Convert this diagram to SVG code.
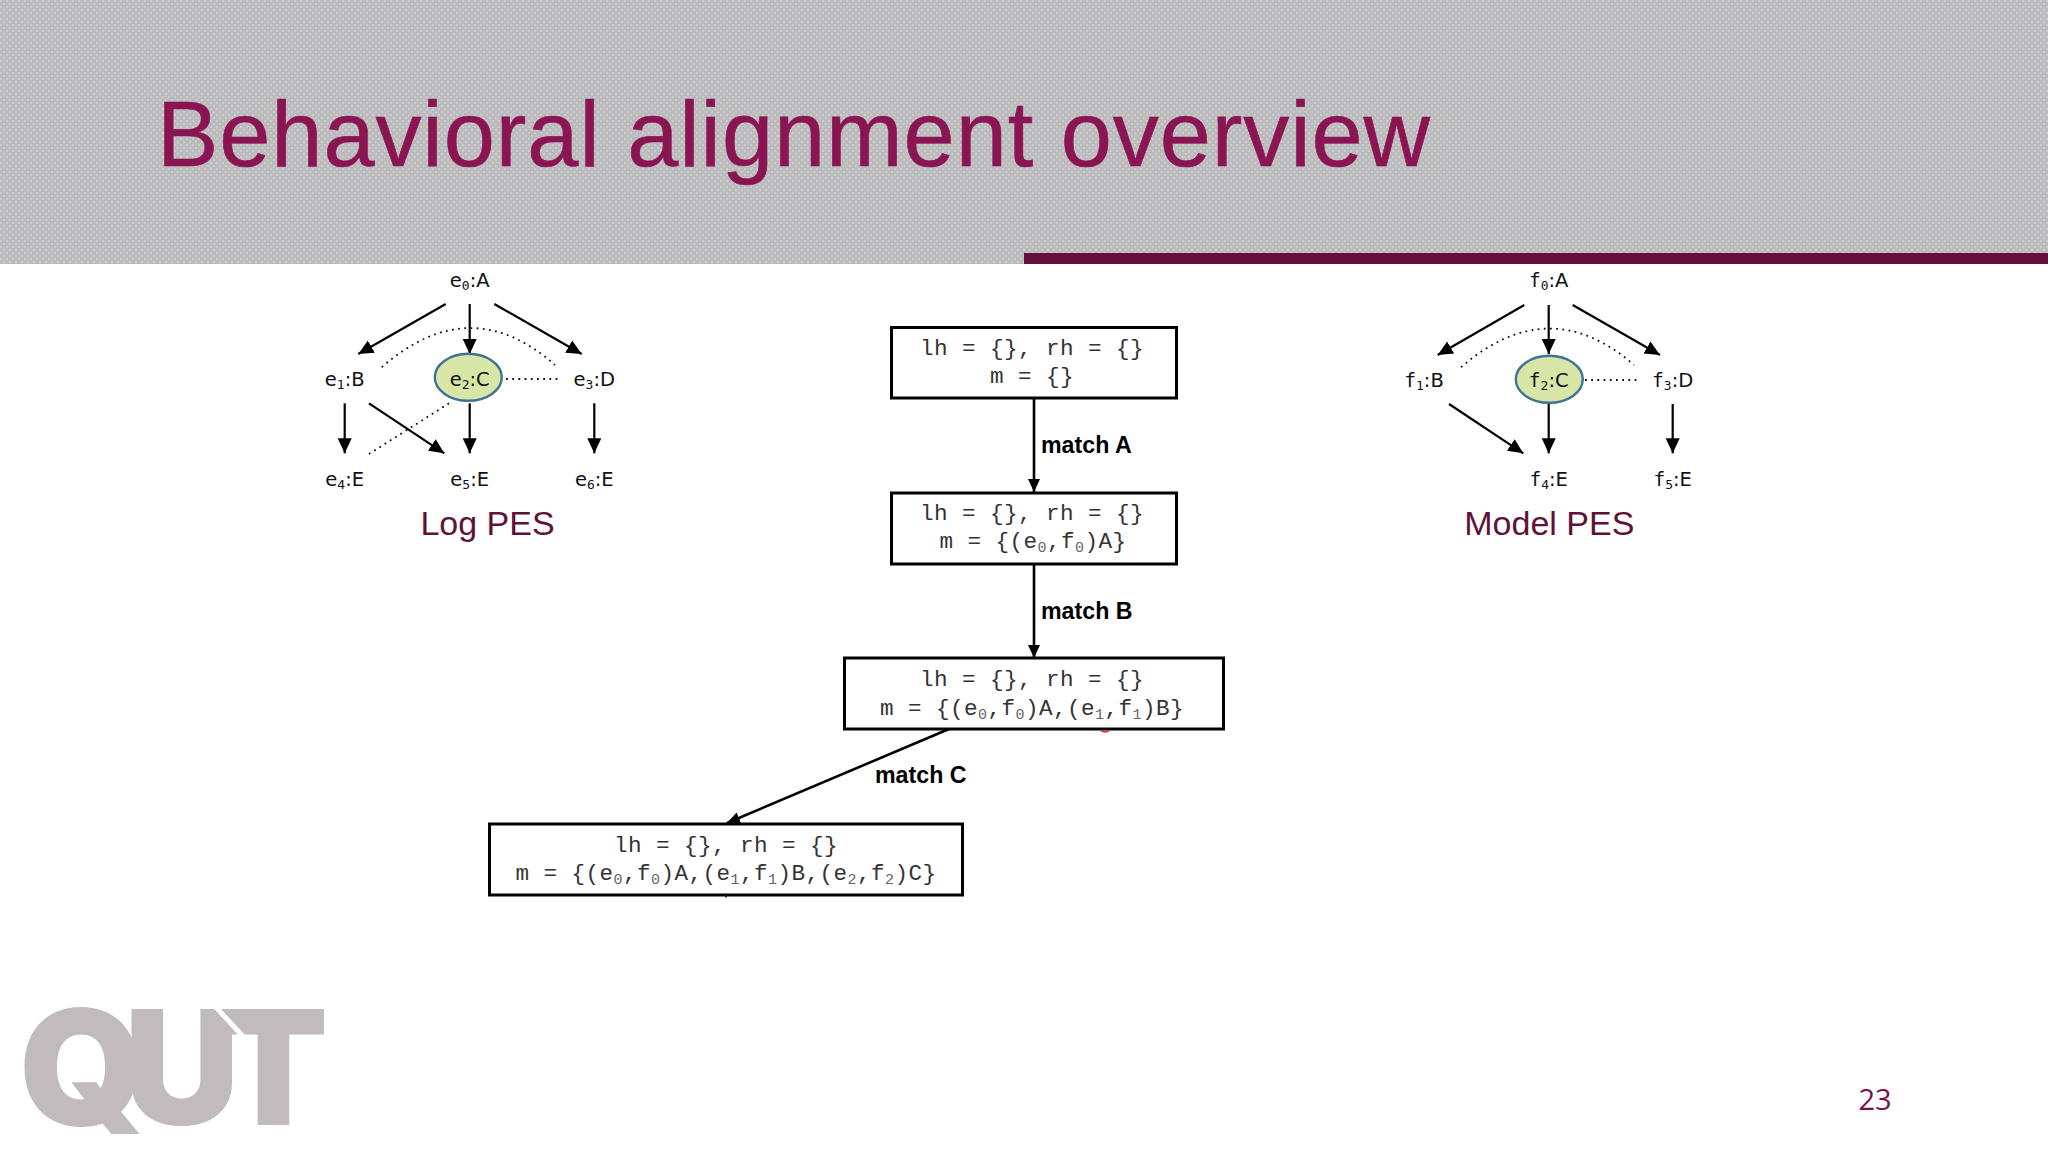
<svg xmlns="http://www.w3.org/2000/svg" width="2048" height="1152" viewBox="0 0 2048 1152">
<defs>
<pattern id="dots" width="6" height="6" patternUnits="userSpaceOnUse"><rect width="6" height="6" fill="#bbbbbd"/><rect x="0" y="0" width="2" height="2" fill="#cdcdcd"/><rect x="3" y="3" width="2" height="2" fill="#cacaca"/></pattern>
<marker id="ah" markerUnits="userSpaceOnUse" markerWidth="16" markerHeight="16" refX="15" refY="8" orient="auto"><path d="M0,1 L15,8 L0,15 Z" fill="#000"/></marker>
<marker id="ab" markerUnits="userSpaceOnUse" markerWidth="14" markerHeight="14" refX="13" refY="7" orient="auto"><path d="M0,1 L13,7 L0,13 Z" fill="#000"/></marker>
</defs>
<style>
.pes{font-family:"DejaVu Sans",sans-serif;font-size:19.5px;fill:#111;text-anchor:middle}
.pes .s{font-family:"DejaVu Sans Mono",monospace;font-size:13px}
.pes .f{font-family:"DejaVu Sans Mono",monospace}
.cap{font-family:"Liberation Sans",Arial,sans-serif;font-size:34px;fill:#5f1238;text-anchor:middle}
.box{fill:#fff;stroke:#000;stroke-width:3}
.mono{font-family:"Liberation Mono","Courier New",monospace;font-size:22.6px;letter-spacing:.45px;fill:#333;text-anchor:middle}
.mono .s{font-size:15px;fill:#666}
.lab{font-family:"Liberation Sans",Arial,sans-serif;font-size:23.2px;font-weight:bold;fill:#000}
.arr{stroke:#000;stroke-width:2.2;fill:none;marker-end:url(#ah)}
.con{stroke:#000;stroke-width:2.6;fill:none;marker-end:url(#ab)}
.dot{stroke:#111;stroke-width:1.8;fill:none;stroke-dasharray:1.8 4.4}
.ell{fill:#d7e5a6;stroke:#3e7299;stroke-width:2.4}
</style>
<rect width="2048" height="1152" fill="#fff"/>
<rect id="header" width="2048" height="264" fill="url(#dots)"/>
<rect id="header-bar" x="1024" y="253" width="1024" height="11" fill="#630f3c"/>
<text id="title" x="157" y="165.5" font-family="Liberation Sans,Arial,sans-serif" font-size="92" fill="#8a1552" stroke="#8a1552" stroke-width=".6" textLength="1273" lengthAdjust="spacing">Behavioral alignment overview</text>

<g id="connectors">
<path class="arr" d="M445.7,304 L358.3,354"/>
<path class="arr" d="M469.7,304 V354"/>
<path class="arr" d="M494.3,304 L581.7,354"/>
<path class="arr" d="M344.7,403.3 V453.3"/>
<path class="arr" d="M369,403.3 L444.3,453.3"/>
<path class="arr" d="M469.7,403.3 V453.3"/>
<path class="arr" d="M594.3,403.3 V453.3"/>
<path class="dot" d="M381.7,367.3 Q470,290 555,365"/>
<path class="dot" d="M506,379 H558.3"/>
<path class="dot" d="M449,403.3 L369,454"/>
<path class="arr" d="M1524.3,305 L1437.7,355"/>
<path class="arr" d="M1548.7,305 V354"/>
<path class="arr" d="M1572.7,305 L1660,355"/>
<path class="arr" d="M1449,404 L1523.3,453.3"/>
<path class="arr" d="M1548.7,403.3 V453.3"/>
<path class="arr" d="M1672.7,404 V453.3"/>
<path class="dot" d="M1461,367.3 Q1549,291 1634,365"/>
<path class="dot" d="M1585,380 H1636.7"/>
<path class="con" d="M1034,398 V492"/>
<path class="con" d="M1034,564 V658"/>
<path class="con" d="M949,729 L727,823"/>
</g>

<g id="e0"><text class="pes" x="469.7" y="287">e<tspan class="s" dy="3">0</tspan><tspan dy="-3">:A</tspan></text></g>
<g id="e1"><text class="pes" x="344.7" y="386">e<tspan class="s" dy="3">1</tspan><tspan dy="-3">:B</tspan></text></g>
<g id="e2"><ellipse class="ell" cx="468.3" cy="377.3" rx="33.5" ry="23.5"/><text class="pes" x="469.7" y="386">e<tspan class="s" dy="3">2</tspan><tspan dy="-3">:C</tspan></text></g>
<g id="e3"><text class="pes" x="594.3" y="386">e<tspan class="s" dy="3">3</tspan><tspan dy="-3">:D</tspan></text></g>
<g id="e4"><text class="pes" x="344.7" y="486">e<tspan class="s" dy="3">4</tspan><tspan dy="-3">:E</tspan></text></g>
<g id="e5"><text class="pes" x="469.7" y="486">e<tspan class="s" dy="3">5</tspan><tspan dy="-3">:E</tspan></text></g>
<g id="e6"><text class="pes" x="594.3" y="486">e<tspan class="s" dy="3">6</tspan><tspan dy="-3">:E</tspan></text></g>
<text id="log-pes" class="cap" x="487.5" y="535">Log PES</text>

<g id="f0"><text class="pes" x="1548.7" y="287"><tspan class="f">f</tspan><tspan class="s" dy="3">0</tspan><tspan dy="-3">:A</tspan></text></g>
<g id="f1"><text class="pes" x="1424" y="387"><tspan class="f">f</tspan><tspan class="s" dy="3">1</tspan><tspan dy="-3">:B</tspan></text></g>
<g id="f2"><ellipse class="ell" cx="1549.3" cy="379.3" rx="33.5" ry="23.5"/><text class="pes" x="1548.7" y="387"><tspan class="f">f</tspan><tspan class="s" dy="3">2</tspan><tspan dy="-3">:C</tspan></text></g>
<g id="f3"><text class="pes" x="1672.7" y="387"><tspan class="f">f</tspan><tspan class="s" dy="3">3</tspan><tspan dy="-3">:D</tspan></text></g>
<g id="f4"><text class="pes" x="1548.7" y="486"><tspan class="f">f</tspan><tspan class="s" dy="3">4</tspan><tspan dy="-3">:E</tspan></text></g>
<g id="f5"><text class="pes" x="1672.7" y="486"><tspan class="f">f</tspan><tspan class="s" dy="3">5</tspan><tspan dy="-3">:E</tspan></text></g>
<text id="model-pes" class="cap" x="1549.3" y="535">Model PES</text>

<g id="state1"><rect class="box" x="891.5" y="327.5" width="285" height="70.5"/>
<text class="mono" x="1032" y="355">lh = {}, rh = {}</text><text class="mono" x="1032" y="383">m = {}</text></g>
<g id="state2"><rect class="box" x="891.5" y="493" width="285" height="71"/>
<text class="mono" x="1032" y="520">lh = {}, rh = {}</text><text class="mono" x="1033" y="548">m = {(e<tspan class="s" dy="4">0</tspan><tspan dy="-4">,f</tspan><tspan class="s" dy="4">0</tspan><tspan dy="-4">)A}</tspan></text></g>
<g id="state3"><rect class="box" x="844.5" y="658" width="379" height="71"/>
<text class="mono" x="1032" y="686">lh = {}, rh = {}</text><text class="mono" x="1032" y="715">m = {(e<tspan class="s" dy="4">0</tspan><tspan dy="-4">,f</tspan><tspan class="s" dy="4">0</tspan><tspan dy="-4">)A,(e</tspan><tspan class="s" dy="4">1</tspan><tspan dy="-4">,f</tspan><tspan class="s" dy="4">1</tspan><tspan dy="-4">)B}</tspan></text></g>
<g id="state4"><rect class="box" x="489.5" y="824" width="473" height="71"/>
<text class="mono" x="726" y="852">lh = {}, rh = {}</text><text class="mono" x="726" y="880">m = {(e<tspan class="s" dy="4">0</tspan><tspan dy="-4">,f</tspan><tspan class="s" dy="4">0</tspan><tspan dy="-4">)A,(e</tspan><tspan class="s" dy="4">1</tspan><tspan dy="-4">,f</tspan><tspan class="s" dy="4">1</tspan><tspan dy="-4">)B,(e</tspan><tspan class="s" dy="4">2</tspan><tspan dy="-4">,f</tspan><tspan class="s" dy="4">2</tspan><tspan dy="-4">)C}</tspan></text></g>

<text class="lab" x="1041" y="453">match A</text>
<text class="lab" x="1041" y="619">match B</text>
<text class="lab" x="875" y="783">match C</text>
<path d="M1101,730.5 Q1105,733 1109,730.5" stroke="#d33" stroke-width="2" fill="none"/>
<rect x="725" y="895" width="2" height="2.5" fill="#222"/>

<text id="logo" x="19" y="1125" font-family="Inter,sans-serif" font-weight="900" font-size="160" letter-spacing="-21" fill="#c2bbbe">QUT</text>
<path id="logo-cut" d="M214,1005 L248,1042" stroke="#fff" stroke-width="5" fill="none"/>
<text id="page" x="1875" y="1110" font-family="Open Sans,sans-serif" font-size="29" fill="#7a1048" text-anchor="middle">23</text>
</svg>
